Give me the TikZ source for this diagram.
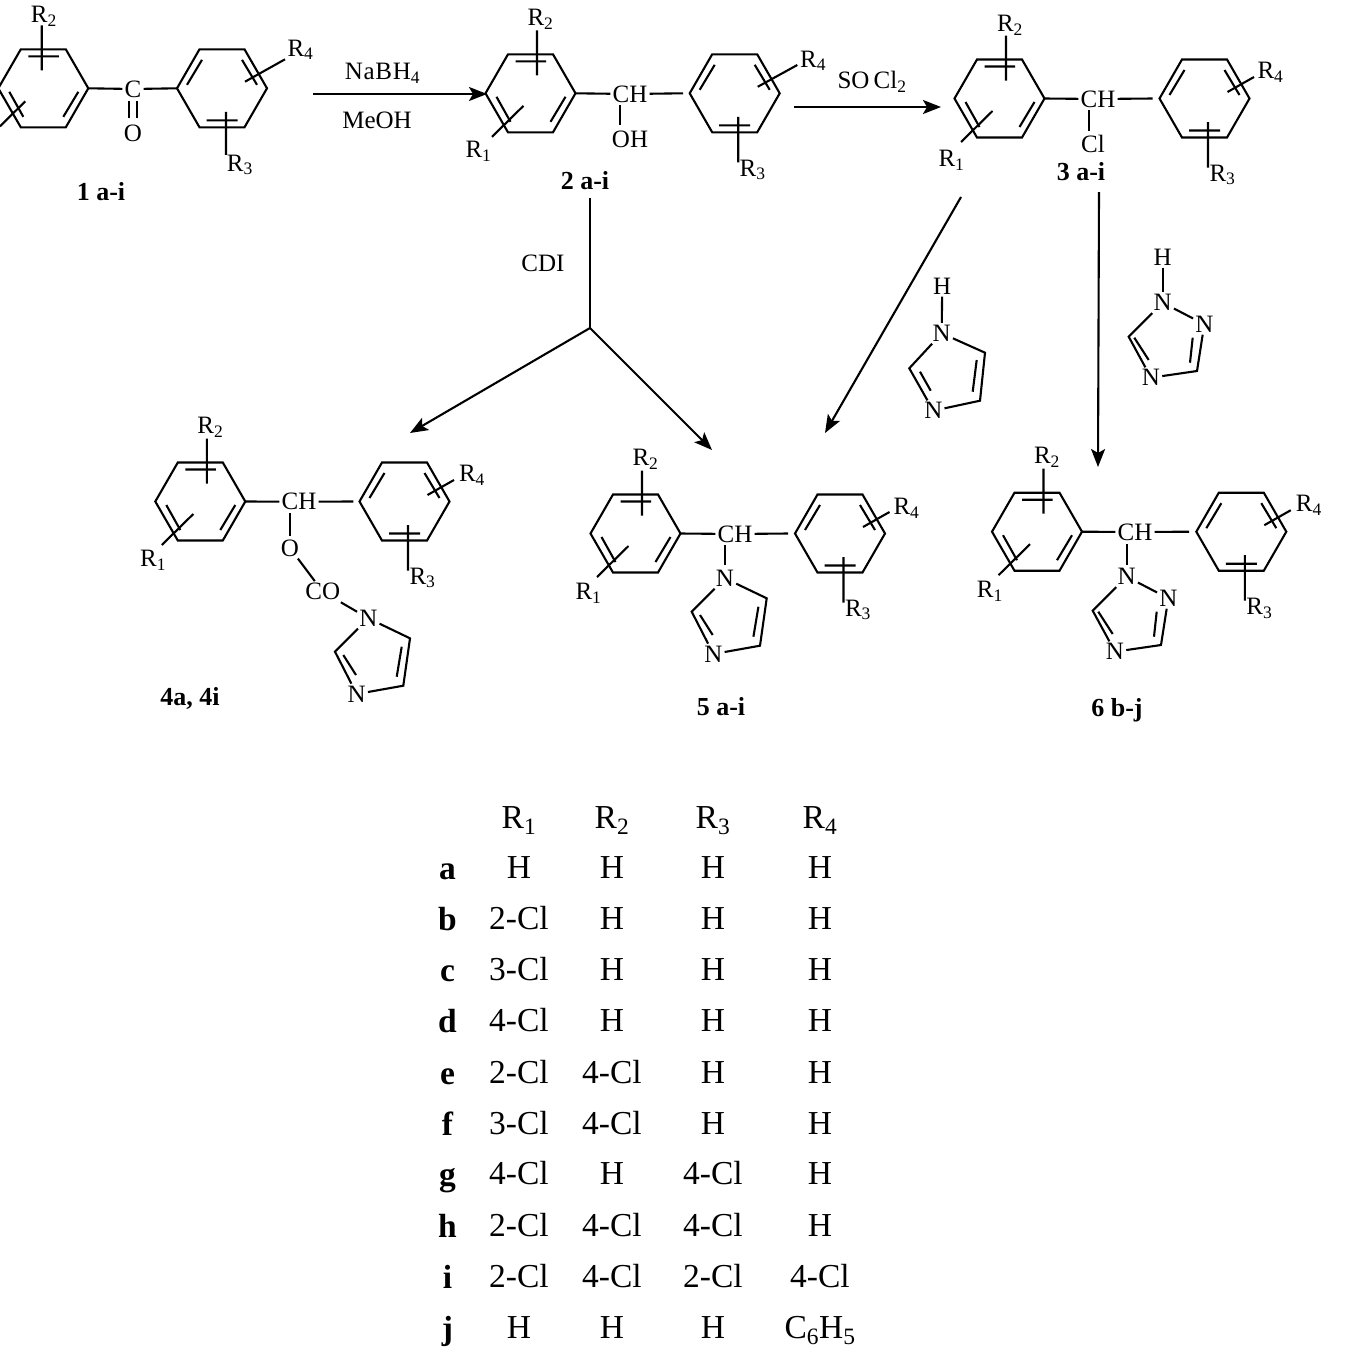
\documentclass[tikz,border=0pt]{standalone}
\usepackage{fontspec}
\setmainfont{Liberation Serif}
\usetikzlibrary{arrows.meta}
\tikzset{
  bond/.style={line width=2.1pt,line join=miter,black},
  rxn/.style={line width=2.1pt,-{Stealth[length=18pt,width=14pt,inset=4pt]}},
  plainrxn/.style={line width=2.1pt},
  atom/.style={font=\fontsize{25}{25}\selectfont,inner sep=2pt,text=black},
  rlab/.style={font=\fontsize{25}{25}\selectfont,inner sep=0pt,text=black},
  cpd/.style={font=\fontsize{26}{26}\selectfont\bfseries,inner sep=0pt,text=black},
  tab/.style={font=\fontsize{33.5}{33.5}\selectfont,inner sep=0pt,anchor=base,text=black},
  tabb/.style={font=\fontsize{33.5}{33.5}\selectfont\bfseries,inner sep=0pt,anchor=base,text=black},
}
\newcommand\hexa[1]{%
  \coordinate (#1l) at (-45,0);\coordinate (#1tl) at (-22.5,-39);\coordinate (#1tr) at (22.5,-39);
  \coordinate (#1r) at (45,0);\coordinate (#1br) at (22.5,39);\coordinate (#1bl) at (-22.5,39);
  \draw[bond] (#1l)--(#1tl)--(#1tr)--(#1r)--(#1br)--(#1bl)--cycle;}
\newcommand\lring[1]{\hexa{#1}\draw[bond] (-15,-32)--(15.5,-32) (20,28.5)--(35,3.5) (-34,3.5)--(-20,28.5);}
\newcommand\rring[1]{\hexa{#1}\draw[bond] (-35,-3.5)--(-20,-28.5) (20,-28.5)--(35,-3.5) (-15.5,32)--(15.5,32);}
\newcommand\labR[4]{\node[rlab] (#1) at (#2,#3) {R\textsubscript{#4}};}
% standard left ring: prefix, centre x, y, R2 label x,y, R1 label x,y
\newcommand\stdleft[7]{\begin{scope}[shift={(#2,#3)}]
  \lring{#1}
  \draw[bond] (6.5,-63)--(6.5,-18) (-7,12.5)--(-38.5,43.5);
  \labR{#1R2}{#4}{#5}{2}\labR{#1R1}{#6}{#7}{1}
\end{scope}}
% standard right ring: prefix, centre x, y, R4 line end x,y, R4 label x,y
\newcommand\stdright[7]{\begin{scope}[shift={(#2,#3)}]
  \rring{#1}
  \draw[bond] (3.5,23.5)--(3.5,69) (23,-6.5)--(#4,#5);
  \labR{#1R3}{18}{76.5}{3}\labR{#1R4}{#6}{#7}{4}
\end{scope}}
% imidazole: prefix, shift x, y (N1 at origin)
\newcommand\imid[3]{\begin{scope}[shift={(#2,#3)}]
  \node[atom] (#1n1) at (0,0) {N};
  \node[atom] (#1n3) at (-11.6,75.7) {N};
  \coordinate (#1c5) at (41.7,20);\coordinate (#1c4) at (35,67.4);\coordinate (#1c2) at (-33.3,33.4);
  \draw[bond] (#1n1)--(#1c5)--(#1c4)--(#1n3)--(#1c2)--(#1n1);
  \draw[bond] (33.4,28.4)--(28.4,58.4) (-25,36.7)--(-12.3,56.7);
\end{scope}}
% triazole: prefix, shift x, y (N1 at origin)
\newcommand\triaz[3]{\begin{scope}[shift={(#2,#3)}]
  \node[atom] (#1n1) at (0,0) {N};
  \node[atom] (#1n2) at (41.6,21.6) {N};
  \node[atom] (#1n4) at (-11.7,75) {N};
  \coordinate (#1c3) at (34.3,68.3);\coordinate (#1c5) at (-34,34);
  \draw[bond] (#1n1)--(#1n2)--(#1c3)--(#1n4)--(#1c5)--(#1n1);
  \draw[bond] (30,35)--(27.3,60) (-28.4,35)--(-14,57.3);
\end{scope}}
\begin{document}
\begin{tikzpicture}[x=1pt,y=-1pt]
\useasboundingbox[fill=white] (0,0) rectangle (1347,1355);

% compound 1
\begin{scope}[shift={(43.3,88.3)}]
  \lring{a}
  \draw[bond] (-1.6,-63)--(-1.6,-18) (-18,13)--(-43.3,38);
  \labR{aR2}{0.5}{-72}{2}
\end{scope}
\begin{scope}[shift={(222,88.3)}]
  \rring{b}
  \draw[bond] (4,23.5)--(4,66.5) (23,-6.6)--(63,-29);
  \labR{bR3}{17.8}{76.5}{3}\labR{bR4}{78.5}{-38.5}{4}
\end{scope}
\node[atom] (aC) at (133,89) {C};
\node[atom] (aO) at (133,133) {O};
\draw[bond] (ar)--(aC) (aC)--(bl);
\draw[bond] (129.3,101)--(129.3,118) (136.7,101)--(136.7,118);
\node[cpd] (lab1) at (101,192) {1 a-i};

% compound 2
\stdleft{c}{530.5}{93.3}{10}{-74}{-52}{58}
\stdright{d}{734.7}{93.3}{62.6}{-28.3}{78.5}{-32.5}
\node[atom] (cCH) at (630,94) {CH};
\node[atom] (cOH) at (630,139) {OH};
\coordinate (cgap) at (683,93.3);
\draw[bond] (cr)--(cCH) (cCH)--(cgap);
\draw[bond] (620,105)--(620,125);
\node[cpd] (lab2) at (585,181) {2 a-i};

% compound 3
\stdleft{e}{999.5}{98.5}{10.5}{-73.5}{-48}{61.5}
\stdright{f}{1204.5}{98.5}{49.5}{-21.5}{66}{-26}
\node[atom] (eCH) at (1098,99) {CH};
\node[atom] (eCl) at (1093,144) {Cl};
\coordinate (egap) at (1152.7,98.5);
\draw[bond] (er)--(eCH) (eCH)--(egap);
\draw[bond] (1089.3,110)--(1089.3,130.7);
\node[cpd] (lab3) at (1081,172) {3 a-i};

% compound 4
\stdleft{g}{200.3}{501.5}{10}{-74.5}{-47.2}{59}
\stdright{h}{404.5}{501.5}{49.5}{-21.5}{67.5}{-26.5}
\node[atom] (gCH) at (299,501.7) {CH};
\node[atom] (gO) at (290,548) {O};
\node[atom] (gCO) at (322.7,591.7) {CO};
\coordinate (ggap) at (353.3,501.5);
\draw[bond] (gr)--(gCH) (gCH)--(ggap);
\draw[bond] (290,513.3)--(290,536);
\draw[bond] (gO)--(gCO);
\imid{i}{368.3}{618.3}
\draw[bond] (gCO)--(in1);
\node[cpd] (lab4) at (190,698.5) {4a, 4i};

% compound 5
\stdleft{j}{635.5}{533.5}{10}{-74}{-47}{59.5}
\stdright{k}{840}{533.5}{49.5}{-21.5}{66.5}{-25.5}
\node[atom] (jCH) at (735,534) {CH};
\coordinate (jgap) at (788,533.5);
\draw[bond] (jr)--(jCH) (jCH)--(jgap);
\imid{m}{725}{578.3}
\draw[bond] (725,545)--(725,565);
\node[cpd] (lab5) at (721,706.5) {5 a-i};

% compound 6
\stdleft{n}{1037}{531.7}{10}{-74.5}{-47.2}{59.5}
\stdright{o}{1241.3}{531.7}{49.5}{-21.5}{67.5}{-26.5}
\node[atom] (nCH) at (1135,532) {CH};
\coordinate (ngap) at (1189,531.7);
\draw[bond] (nr)--(nCH) (nCH)--(ngap);
\triaz{p}{1126.7}{576.7}
\draw[bond] (1126.7,544)--(1126.7,565);
\node[cpd] (lab6) at (1117,710) {6 b-j};

% free imidazole and triazole
\begin{scope}[shift={(941.7,333.3)}]
  \node[atom] (qn1) at (0,0) {N};
  \node[atom] (qn3) at (-8.4,77.4) {N};
  \node[atom] (qH) at (0.5,-47) {H};
  \coordinate (qc5) at (43.3,19.4);\coordinate (qc4) at (38.3,67.4);\coordinate (qc2) at (-32.4,35);
  \draw[bond] (qn1)--(qc5)--(qc4)--(qn3)--(qc2)--(qn1);
  \draw[bond] (35,26.7)--(31,58.4) (-21.7,38.4)--(-11,57.4);
  \draw[bond] (qH)--(qn1);
\end{scope}
\triaz{r}{1162.7}{302.7}
\node[atom] (rH) at (1162.7,257.3) {H};
\draw[bond] (rH)--(rn1);

% reaction arrows
\coordinate (a1s) at (313,94);\coordinate (a1e) at (487,94);
\draw[rxn] (a1s)--(a1e);
\node[atom] (nabh) at (382.5,73) {\addfontfeature{LetterSpace=3}NaBH\textsubscript{4}};
\node[atom] (meoh) at (377,120) {MeOH};
\coordinate (a2s) at (794,107);\coordinate (a2e) at (941,107);
\draw[rxn] (a2s)--(a2e);
\node[atom] (socl) at (872,82) {SO\,Cl\textsubscript{2}};
\coordinate (b1) at (590,198);\coordinate (b2) at (590,328);
\coordinate (b3) at (410,433);\coordinate (b4) at (712,450);
\draw[plainrxn] (b1)--(b2);
\draw[rxn] (b2)--(b3);
\draw[rxn] (b2)--(b4);
\node[atom] (cdi) at (543,263) {CDI};
\coordinate (c1) at (961,197);\coordinate (c2) at (825,433);
\draw[rxn] (c1)--(c2);
\coordinate (d1) at (1099,192);\coordinate (d2) at (1098,467);
\draw[rxn] (d1)--(d2);

% table
\node[tab] (th1) at (519,828) {R\textsubscript{1}};
\node[tab] (th2) at (612,828) {R\textsubscript{2}};
\node[tab] (th3) at (713,828) {R\textsubscript{3}};
\node[tab] (th4) at (820,828) {R\textsubscript{4}};
\foreach \n/\y/\ra/\rb/\rc/\rd in {
 a/878/H/H/H/H, b/929/2-Cl/H/H/H, c/980/3-Cl/H/H/H, d/1031/4-Cl/H/H/H,
 e/1083/2-Cl/4-Cl/H/H, f/1134/3-Cl/4-Cl/H/H, g/1184/4-Cl/H/4-Cl/H,
 h/1236/2-Cl/4-Cl/4-Cl/H, i/1287/2-Cl/4-Cl/2-Cl/4-Cl,
 j/1338/H/H/H/{C\textsubscript{6}H\textsubscript{5}}}{
  \node[tabb] (row\n) at (447.5,\y+1) {\n};
  \node[tab] (row\n1) at (519,\y) {\ra};
  \node[tab] (row\n2) at (612,\y) {\rb};
  \node[tab] (row\n3) at (713,\y) {\rc};
  \node[tab] (row\n4) at (820,\y) {\rd};
}
\end{tikzpicture}
\end{document}
